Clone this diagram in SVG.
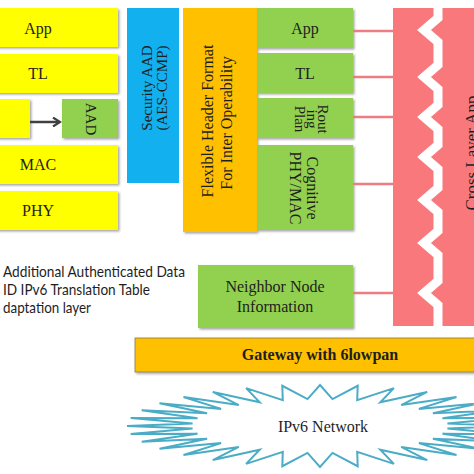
<svg xmlns="http://www.w3.org/2000/svg" width="474" height="474" viewBox="0 0 474 474">
<defs>
<style>
.serif{font-family:"Liberation Serif","Times New Roman",serif;fill:#1e1e1e}
.t15{font-size:15px}
.t16{font-size:16px}
.yel{fill:#FFFF00}
.grn{fill:#92D050}
.org{fill:#FFC000}
.blu{fill:#12B0EE}
.pink{fill:#F8787C}
.link{stroke:#EE7C80;stroke-width:2.5;fill:none}
.sans{font-family:Lato,"Liberation Sans",Arial,sans-serif;font-size:16px;fill:#1e1e1e}
</style>
<filter id="sh" x="-10%" y="-10%" width="130%" height="130%">
<feDropShadow dx="1.5" dy="1.5" stdDeviation="0.8" flood-color="#000" flood-opacity="0.35"/>
</filter>
<marker id="arr" markerWidth="10" markerHeight="10" refX="8" refY="5" orient="auto" markerUnits="userSpaceOnUse">
<path d="M1,0.5 L8,5 L1,9.5" fill="none" stroke="#404040" stroke-width="2.2"/>
</marker>
</defs>

<g id="left-app"><rect class="yel" x="-5" y="8" width="123" height="39" filter="url(#sh)"/><text class="serif t16" x="38" y="34" text-anchor="middle">App</text></g>
<g id="left-tl"><rect class="yel" x="-5" y="54" width="123" height="39" filter="url(#sh)"/><text class="serif t16" x="38" y="79" text-anchor="middle">TL</text></g>
<g id="left-6l"><rect class="yel" x="-5" y="99" width="35" height="39" filter="url(#sh)"/></g>
<g id="aad"><rect class="grn" x="62" y="99" width="56" height="39" filter="url(#sh)"/><text class="serif t15" transform="translate(91,119) rotate(90)" text-anchor="middle" dominant-baseline="central">AAD</text></g>
<g id="left-mac"><rect class="yel" x="-5" y="145" width="123" height="39" filter="url(#sh)"/><text class="serif t16" x="38" y="170" text-anchor="middle">MAC</text></g>
<g id="left-phy"><rect class="yel" x="-5" y="191" width="123" height="39" filter="url(#sh)"/><text class="serif t16" x="38" y="216" text-anchor="middle">PHY</text></g>

<g id="security"><rect class="blu" x="127" y="8" width="52" height="175"/>
<text class="serif t15" transform="translate(152,88) rotate(-90)" text-anchor="middle">Security AAD</text>
<text class="serif t15" transform="translate(167,88) rotate(-90)" text-anchor="middle">(AES-CCMP)</text></g>

<g id="flexible"><rect class="org" x="183" y="8" width="74" height="224" filter="url(#sh)"/>
<text class="serif t16" transform="translate(213,121) rotate(-90)" text-anchor="middle">Flexible Header Format</text>
<text class="serif t16" transform="translate(232,123) rotate(-90)" text-anchor="middle">For  Inter Operability</text></g>

<g id="right-app"><rect class="grn" x="257" y="8" width="96" height="40" filter="url(#sh)"/><text class="serif t16" x="305" y="34" text-anchor="middle">App</text></g>
<g id="right-tl"><rect class="grn" x="257" y="53" width="96" height="40" filter="url(#sh)"/><text class="serif t16" x="305" y="79" text-anchor="middle">TL</text></g>
<g id="routing"><rect class="grn" x="257" y="98" width="96" height="40" filter="url(#sh)"/>
<text class="serif t15" transform="translate(318,119) rotate(90)" text-anchor="middle">Rout</text>
<text class="serif t15" transform="translate(307,119) rotate(90)" text-anchor="middle">ing</text>
<text class="serif t15" transform="translate(295,119) rotate(90)" text-anchor="middle">Plan</text></g>
<g id="cognitive"><rect class="grn" x="257" y="145" width="96" height="85" filter="url(#sh)"/>
<text class="serif t16" transform="translate(307,188) rotate(90)" text-anchor="middle">Cognitive</text>
<text class="serif t16" transform="translate(290,188) rotate(90)" text-anchor="middle">PHY/MAC</text></g>

<g id="neighbor"><rect class="grn" x="198" y="265" width="155" height="63" filter="url(#sh)"/>
<text class="serif t16" x="275" y="292" text-anchor="middle">Neighbor  Node</text>
<text class="serif t16" x="275" y="312" text-anchor="middle">Information</text></g>

<g id="cross-layer">
<rect class="pink" x="393" y="8" width="90" height="318"/>
<polyline points="438,0 438,18 424,30 438,42 438,65 424,77 438,89 438,105 424,117 438,129 438,145 424,157 438,169 438,188 424,200 438,212 438,231 424,243 438,255 438,281 424,293 438,305 438,330" fill="none" stroke="#fff" stroke-width="9" stroke-linejoin="miter" stroke-miterlimit="10"/>
<text class="serif" font-size="17" transform="translate(477,153) rotate(-90)" text-anchor="middle">Cross Layer App</text>
</g>

<g id="connectors">
<line x1="30" y1="122" x2="60" y2="122" stroke="#404040" stroke-width="2.5" marker-end="url(#arr)"/>
<line class="link" x1="353" y1="31" x2="393" y2="31"/>
<line class="link" x1="353" y1="77" x2="393" y2="77"/>
<line class="link" x1="353" y1="117" x2="393" y2="117"/>
<line class="link" x1="353" y1="184" x2="393" y2="184"/>
<line class="link" x1="353" y1="293" x2="393" y2="293"/>
</g>

<g id="legend">
<text class="sans" x="3" y="277" textLength="182" lengthAdjust="spacingAndGlyphs">Additional Authenticated Data</text>
<text class="sans" x="3" y="295" textLength="147" lengthAdjust="spacingAndGlyphs">ID IPv6 Translation Table</text>
<text class="sans" x="3" y="313" textLength="88" lengthAdjust="spacingAndGlyphs">daptation layer</text>
</g>

<g id="gateway"><rect class="org" x="135" y="338" width="345" height="34" stroke="#8a7a40" stroke-width="0.8" filter="url(#sh)"/>
<text class="serif t16" font-weight="bold" x="320" y="360" text-anchor="middle">Gateway  with  6lowpan</text></g>

<g id="ipv6">
<polygon fill="#fff" stroke="#4BACC6" stroke-width="2" stroke-linejoin="miter" points="320,385 332.5,399.1 357.7,385.8 357.2,400.2 393.9,388.1 380.3,402.2 427.2,391.9 401.2,405.1 456.5,397 418.9,408.9 480.5,403.2 432.9,413.3 498.3,410.3 442.5,418.2 509.3,418 447.4,423.4 513,426 447.4,428.6 509.3,434 442.5,433.8 498.3,441.7 432.9,438.7 480.5,448.8 418.9,443.1 456.5,455 401.2,446.9 427.2,460.1 380.3,449.8 393.9,463.9 357.2,451.8 357.7,466.2 332.5,452.9 320,467 307.5,452.9 282.3,466.2 282.8,451.8 246.1,463.9 259.7,449.8 212.8,460.1 238.8,446.9 183.5,455 221.1,443.1 159.5,448.8 207.1,438.7 141.7,441.7 197.5,433.8 130.7,434 192.6,428.6 127,426 192.6,423.4 130.7,418 197.5,418.2 141.7,410.3 207.1,413.3 159.5,403.2 221.1,408.9 183.5,397 238.8,405.1 212.8,391.9 259.7,402.2 246.1,388.1 282.8,400.2 282.3,385.8 307.5,399.1"/>
<text class="serif t16" x="323" y="432" text-anchor="middle">IPv6 Network</text>
</g>
</svg>
